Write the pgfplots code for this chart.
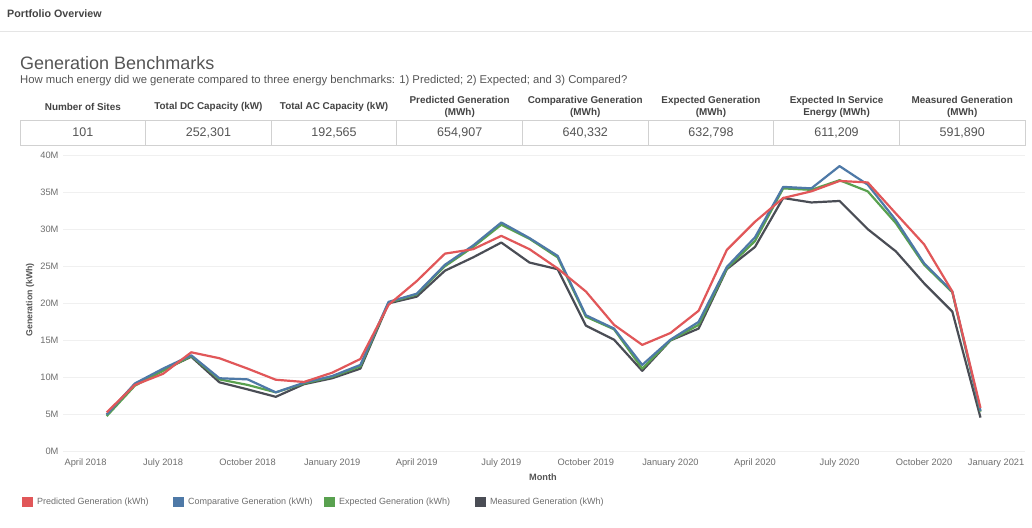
\documentclass[border=0pt]{standalone}
\usepackage{fontspec}
\setmainfont{Liberation Sans}
\usepackage{pgfplots}
\pgfplotsset{compat=1.18}
\usepackage{pgfplotstable}
\definecolor{cred}{HTML}{E15759}
\definecolor{cblue}{HTML}{4E79A7}
\definecolor{cgreen}{HTML}{59A14F}
\definecolor{cdark}{HTML}{4A4D55}
\definecolor{txt}{HTML}{555555}
\definecolor{hdr}{HTML}{444444}
\definecolor{gridc}{HTML}{F0F0F0}
\definecolor{tick}{HTML}{6E6E6E}

\pgfplotstableread{
m  pred  comp  expd  meas
1  5.3   5.0   4.8   5.0
2  9.0   9.2   8.9   9.1
3  10.5  11.2  10.9  11.0
4  13.4  13.0  12.9  12.8
5  12.6  9.9   9.75  9.35
6  11.2  9.75  9.0   8.4
7  9.7   8.0   8.0   7.4
8  9.4   9.3   9.2   9.1
9  10.65 10.2  10.1  9.9
10 12.5  11.7  11.5  11.2
11 19.8  20.2  20.1  20.0
12 23.0  21.3  21.2  20.9
13 26.7  25.2  25.0  24.4
14 27.3  27.8  27.6  26.2
15 29.1  30.9  30.6  28.2
16 27.3  28.8  28.7  25.5
17 24.7  26.4  26.2  24.6
18 21.6  18.4  18.2  17.0
19 17.1  16.6  16.5  15.1
20 14.4  11.7  11.2  10.9
21 16.0  15.1  15.0  15.0
22 19.0  17.5  17.1  16.6
23 27.2  24.9  24.7  24.6
24 31.0  28.9  28.4  27.6
25 34.2  35.7  35.5  34.2
26 35.1  35.5  35.3  33.6
27 36.5  38.5  36.6  33.8
28 36.3  36.0  35.1  30.0
29 32.1  31.2  30.8  27.0
30 27.95 25.4  25.2  22.7
31 21.6  21.6  21.5  18.9
32 5.9   5.5   5.4   4.6
}\gen

\begin{document}
\begin{tikzpicture}[x=1bp,y=1bp]
\useasboundingbox[fill=white] (0,0) rectangle (1032,528);
% page header
\node[anchor=base west,inner sep=0,font=\fontsize{10.7bp}{12bp}\selectfont\bfseries,text=hdr] at (7,510) {Portfolio Overview};
\draw[black!10,line width=0.8bp] (0,497) -- (1032,497);
% title and subtitle
\node[anchor=base west,inner sep=0,font=\fontsize{18bp}{21bp}\selectfont,text=txt] at (20,458) {Generation Benchmarks};
\node[anchor=base west,inner sep=0,font=\fontsize{11.3bp}{13bp}\selectfont,text=txt] at (20,444) {How much energy did we generate compared to three energy benchmarks: 1) Predicted; 2) Expected; and 3) Compared?};
% table
\draw[black!18,line width=0.8bp] (20,383) rectangle (1025,408);
\foreach \i in {1,...,7}{\draw[black!18,line width=0.8bp] ({20+\i*125.625},383) -- ({20+\i*125.625},408);}
\foreach \t [count=\i from 0] in {{Number of Sites},{Total DC Capacity (kW)},{Total AC Capacity (kW)},{Predicted Generation\\(MWh)},{Comparative Generation\\(MWh)},{Expected Generation\\(MWh)},{Expected In Service\\Energy (MWh)},{Measured Generation\\(MWh)}}{
  \node[align=center,inner sep=0,font=\fontsize{9.9bp}{11.5bp}\selectfont\bfseries,text=hdr] at ({20+125.625*(\i+0.5)},421) {\t};
}
\foreach \v [count=\i from 0] in {101,{252,301},{192,565},{654,907},{640,332},{632,798},{611,209},{591,890}}{
  \node[inner sep=0,anchor=base,font=\fontsize{12.5bp}{14bp}\selectfont,text=txt] at ({20+125.625*(\i+0.5)},391) {\v};
}
% axis labels
\node[rotate=90,font=\fontsize{8.8bp}{10bp}\selectfont\bfseries,text=txt] at (30,228) {Generation (kWh)};
\node[font=\fontsize{9.2bp}{10bp}\selectfont\bfseries,text=txt] at (543,51) {Month};
% chart
\begin{axis}[
  at={(63bp,76.3bp)}, anchor=south west,
  scale only axis, width=962bp, height=296.7bp,
  xmin=-0.55, xmax=33.58, ymin=0, ymax=40,
  axis line style={draw=none},
  major tick length=0pt,
  ytick={0,5,...,40},
  yticklabels={0M,5M,10M,15M,20M,25M,30M,35M,40M},
  xtick={0,3,...,33},
  xticklabels={{\hspace*{14bp}April 2018},July 2018,October 2018,January 2019,April 2019,July 2019,October 2019,January 2020,April 2020,July 2020,October 2020,{\hspace*{-25bp}January 2021}},
  ymajorgrids, grid style={gridc,line width=0.8bp},
  /pgf/number format/assume math mode=true,
  tick label style={font=\fontsize{9.3bp}{10bp}\selectfont,text=tick},
  yticklabel style={xshift=-1bp},
  xticklabel style={yshift=-4bp},
  every axis plot/.append style={line width=2.2bp, line join=round},
  clip=false,
]
\addplot[cdark] table[x=m,y=meas] {\gen};
\addplot[cgreen] table[x=m,y=expd] {\gen};
\addplot[cblue] table[x=m,y=comp] {\gen};
\addplot[cred] table[x=m,y=pred] {\gen};
\end{axis}
% legend
\foreach \c/\x/\tx in {cred/21.7/37,cblue/173/188,cgreen/324/339,cdark/475/490}{
  \fill[\c] (\x,21) rectangle ++(11,10);
}
\foreach \tx/\t in {37/Predicted Generation (kWh),188/Comparative Generation (kWh),339/Expected Generation (kWh),490/Measured Generation (kWh)}{
  \node[anchor=west,inner sep=0,font=\fontsize{9bp}{10bp}\selectfont,text=tick] at (\tx,26) {\t};
}
\end{tikzpicture}
\end{document}
